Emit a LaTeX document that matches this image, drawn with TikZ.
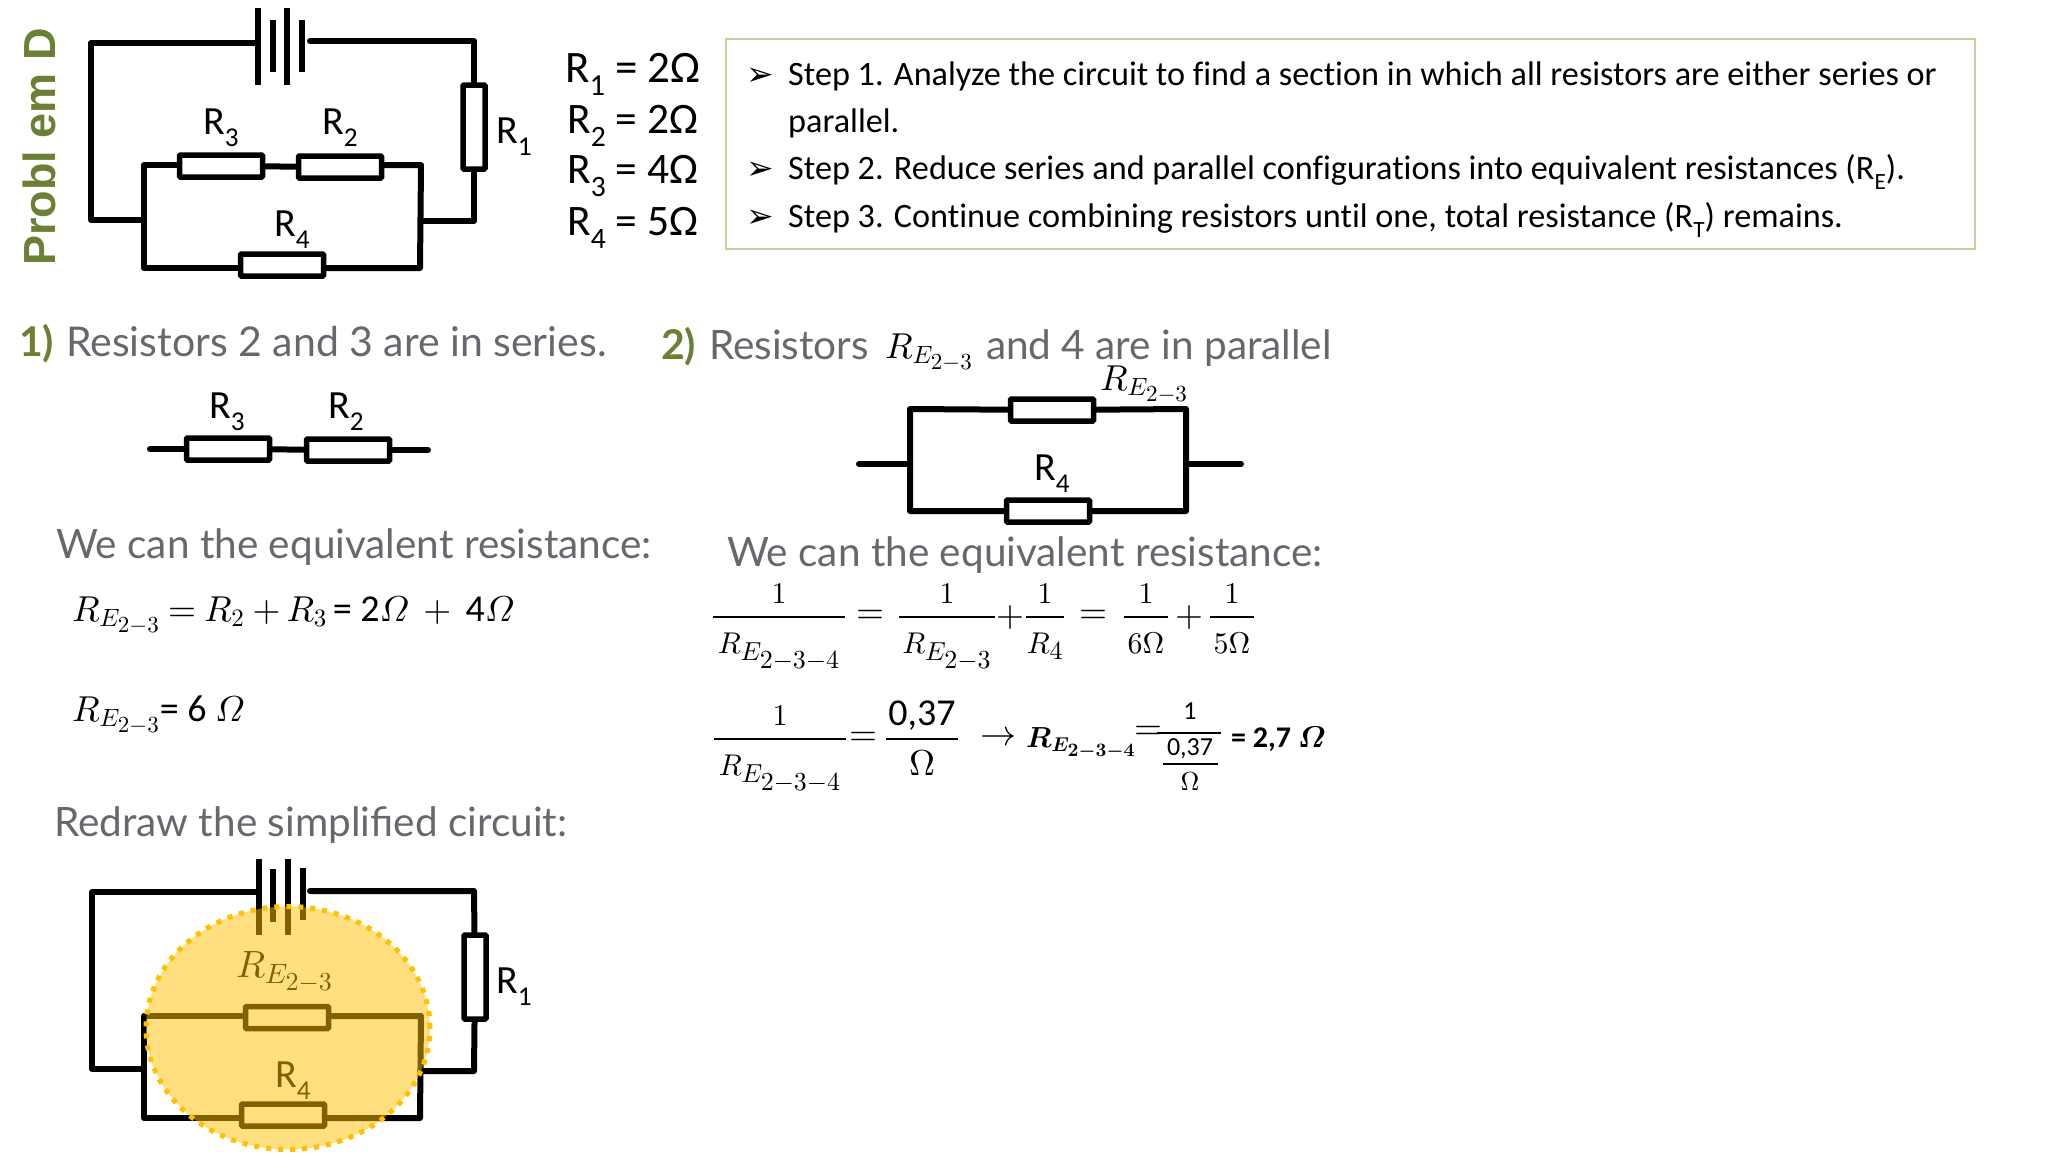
\documentclass[tikz,border=0pt]{standalone}
\usepackage{amsmath}
\usepackage[no-math]{fontspec}
\usepackage{tikz}
\usetikzlibrary{shapes.geometric}
\DeclareFontShape{OML}{cmm}{m}{it}{<->cmmi10}{}
\DeclareFontShape{OML}{cmm}{b}{it}{<->cmmib10}{}
\DeclareFontShape{OMS}{cmsy}{m}{n}{<->cmsy10}{}
\DeclareFontShape{OMS}{cmsy}{b}{n}{<->cmbsy10}{}
\DeclareFontShape{OT1}{cmr}{m}{n}{<->cmr10}{}
\DeclareFontShape{OT1}{cmr}{bx}{n}{<->cmbx10}{}
\DeclareMathSizes{38}{38}{28}{26}
\DeclareMathSizes{36}{36}{25}{23}
\DeclareMathSizes{30}{30}{26}{26}
\DeclareMathSizes{29}{29}{20}{19}
\setmainfont{Carlito}[Ligatures=NoCommon]
\newfontfamily\headfont{Lato}
\newfontfamily\titlefont{Liberation Sans}
\newfontfamily\bulletfont{DejaVu Sans}
\definecolor{probgreen}{HTML}{6B8035}
\definecolor{textgray}{HTML}{65686C}
\definecolor{boxgreen}{HTML}{C6D09C}
\definecolor{halo}{HTML}{FFC000}
\tikzstyle{wire} = [line width=6pt, line cap=round, line join=round]
\tikzstyle{resistor} = [rectangle, rounded corners=1pt, draw=black, line width=5.5pt, fill=white, minimum width=83pt, minimum height=22pt, inner sep=0pt]
\tikzstyle{plate} = [rectangle, fill=black, minimum width=6pt, inner sep=0pt]
\tikzstyle{rlabel} = [anchor=base, inner sep=0pt, font=\fontsize{40}{44}\selectfont]
\tikzstyle{vlabel} = [anchor=base west, inner sep=0pt, font=\fontsize{43.5}{48}\selectfont]
\tikzstyle{heading} = [anchor=base west, inner sep=0pt, text=textgray, font=\headfont\fontsize{40.5}{44}\selectfont]
\tikzstyle{number} = [anchor=base west, inner sep=0pt, text=probgreen, font=\headfont\bfseries\fontsize{41}{44}\selectfont]
\tikzstyle{steptext} = [anchor=base west, inner sep=0pt, font=\fontsize{34.2}{38}\selectfont]
\tikzstyle{bullet} = [anchor=base west, inner sep=0pt, font=\bulletfont\fontsize{33}{36}\selectfont]
\tikzstyle{eqtext} = [anchor=base west, inner sep=0pt, font=\fontsize{36}{40}\selectfont]
\tikzstyle{fractext} = [anchor=base, inner sep=0pt, font=\fontsize{30}{34}\selectfont]
\newcommand{\REtwo}{R_{E_{2-3}}}
\newcommand{\REfour}{R_{E_{2-3-4}}}
\newcommand{\Rsub}[1]{R\raisebox{-.3em}{\scalebox{.68}{#1}}}
\newcommand{\bigtext}[1]{\mbox{\fontsize{38}{40}\selectfont #1}}
% one fraction: name, centre x, half width, y of the bar, top, bottom
\newcommand{\eqfrac}[6]{
\node(#1_num) [fractext] at ({#2},{#4-14}) {$#5$};
\node(#1_den) [fractext] at ({#2},{#4+36}) {$#6$};
\draw[line width=2pt] ({#2-#3},#4) -- ({#2+#3},#4);
}

\begin{document}
\begin{tikzpicture}[x=1pt,y=-1pt]
\useasboundingbox (0,0) rectangle (2048,1152);

% title and first circuit
\node(title) [rotate=90, anchor=base, inner sep=0pt, text=probgreen, font=\titlefont\bfseries\fontsize{45}{48}\selectfont] at (55,147) {Probl em D};
\node(plate_a) [plate, minimum height=77pt] at (258,46) {};
\node(plate_b) [plate, minimum height=52pt] at (273,46) {};
\node(plate_c) [plate, minimum height=77pt] at (287,46) {};
\node(plate_d) [plate, minimum height=52pt] at (302,46) {};
\node(r_one) [resistor, minimum width=22pt, minimum height=84pt] at (474,127) {};
\node(r_three) [resistor] at (221,166) {};
\node(r_two) [resistor] at (340,167) {};
\node(r_four) [resistor] at (282,265) {};
\coordinate (c_tl) at (91,43);
\coordinate (c_bl) at (91,220);
\coordinate (c_tr) at (474,41);
\coordinate (c_br) at (474,221);
\coordinate (c_it) at (144,165);
\coordinate (c_ib) at (144,268);
\coordinate (c_jt) at (421,165);
\coordinate (c_jb) at (420,268);
\coordinate (bat_r) at (310,41);
\draw[wire] (plate_a.center |- c_tl) -- (c_tl) -- (c_bl) -- (c_bl -| c_it);
\draw[wire] (bat_r) -- (c_tr) -- (r_one);
\draw[wire] (r_one) -- (c_br) -- (c_br -| c_jt);
\draw[wire] (r_three.west |- c_it) -- (c_it) -- (c_ib) -- (r_four.west |- c_ib);
\draw[wire] (r_four.east |- c_jb) -- (c_jb) -- (c_jt) -- (r_two.east |- c_jt);
\draw[wire] (r_three) -- (r_two);
\node(lbl_three) [rlabel] at (221,134) {\Rsub{3}};
\node(lbl_two) [rlabel] at (340,134) {\Rsub{2}};
\node(lbl_four) [rlabel] at (292,236) {\Rsub{4}};
\node(lbl_one) [rlabel] at (514,143) {\Rsub{1}};

% values
\node(val_one) [vlabel, font=\fontsize{45}{48}\selectfont] at (565,82) {\Rsub{1} = 2Ω};
\node(val_two) [vlabel] at (567,133) {\Rsub{2} = 2Ω};
\node(val_three) [vlabel] at (567,183) {\Rsub{3} = 4Ω};
\node(val_four) [vlabel] at (567,235) {\Rsub{4} = 5Ω};

% steps
\node(step_box) [rectangle, draw=boxgreen, line width=2pt, minimum width=1249pt, minimum height=210pt] at (1350.5,144) {};
\node(bullet_a) [bullet] at (746,85) {➢};
\node(step_a) [steptext] at (788,85) {Step 1. Analyze the circuit to find a section in which all resistors are either series or};
\node(step_a_more) [steptext] at (788,132) {parallel.};
\node(bullet_b) [bullet] at (746,179) {➢};
\node(step_b) [steptext] at (788,179) {Step 2. Reduce series and parallel configurations into equivalent resistances (\Rsub{E}).};
\node(bullet_c) [bullet] at (746,227) {➢};
\node(step_c) [steptext] at (788,227) {Step 3. Continue combining resistors until one, total resistance (\Rsub{T}) remains.};

% part 1
\node(num_one) [number] at (19,356) {1)};
\node(head_one) [heading, font=\headfont\fontsize{41}{44}\selectfont] at (66,356) {Resistors 2 and 3 are in series.};
\node(s_three) [resistor] at (228,449) {};
\node(s_two) [resistor] at (348,450) {};
\coordinate (s_l) at (150,449);
\coordinate (s_r) at (428,450);
\draw[wire] (s_l) -- (s_three);
\draw[wire] (s_three) -- (s_two);
\draw[wire] (s_two) -- (s_r);
\node(s_lbl_three) [rlabel] at (227,418) {\Rsub{3}};
\node(s_lbl_two) [rlabel] at (346,418) {\Rsub{2}};
\node(can_one) [heading] at (56,558) {We can the equivalent resistance:};
\node(eq_sum) [eqtext] at (72,621) {$\REtwo\ {=}\ R_2\ {+}\,R_3\,$\bigtext{= 2}$\varOmega\ \,+\ \,$\bigtext{4}$\varOmega$};
\node(eq_six) [eqtext] at (72,721) {$\REtwo$\bigtext{= 6 }$\varOmega$};

% part 2
\node(num_two) [number] at (661,359) {2)};
\node(head_two) [heading] at (709,359) {Resistors};
\node(head_two_re) [eqtext] at (885,358) {$\REtwo$};
\node(head_two_more) [heading] at (986,359) {and 4 are in parallel};
\node(p_top) [resistor] at (1052,410) {};
\node(p_bot) [resistor] at (1048,511) {};
\coordinate (p_lt) at (910,409);
\coordinate (p_lb) at (910,511);
\coordinate (p_rt) at (1186,409);
\coordinate (p_rb) at (1186,511);
\coordinate (p_in) at (859,464);
\coordinate (p_out) at (1241,464);
\draw[wire] (p_top) -- (p_lt) -- (p_lb) -- (p_bot);
\draw[wire] (p_bot) -- (p_rb) -- (p_rt) -- (p_top);
\draw[wire] (p_in) -- (p_in -| p_lt);
\draw[wire] (p_out) -- (p_out -| p_rt);
\node(p_lbl_top) [eqtext] at (1100,390) {$\REtwo$};
\node(p_lbl_bot) [rlabel] at (1052,480) {\Rsub{4}};
\node(can_two) [heading] at (727,566) {We can the equivalent resistance:};

% fractions
\eqfrac{fa}{779}{66}{617}{1}{\REfour}
\node(eq_a) [eqtext, anchor=center] at (870,617) {$=$};
\eqfrac{fb}{947}{48}{617}{1}{\REtwo}
\node(plus_a) [eqtext, anchor=center] at (1010,617) {$+$};
\eqfrac{fc}{1045}{19}{617}{1}{R_4}
\node(eq_b) [eqtext, anchor=center] at (1093,617) {$=$};
\eqfrac{fd}{1146}{22}{617}{1}{6\Omega}
\node(plus_b) [eqtext, anchor=center] at (1189,617) {$+$};
\eqfrac{fe}{1232}{22}{617}{1}{5\Omega}
\eqfrac{ff}{780}{66}{739}{1}{\REfour}
\node(eq_c) [eqtext, anchor=center] at (863,739) {$=$};
\eqfrac{fg}{922}{36}{739}{\bigtext{0,37}}{\mbox{\fontsize{36}{40}\selectfont$\Omega$}}
\node(arrow_res) [eqtext, anchor=center] at (998,739) {$\rightarrow$};
\node(bold_re) [fractext, anchor=base west, font=\boldmath\fontsize{29}{34}\selectfont] at (1026,747) {$\REfour$};
\node(eq_d) [eqtext, anchor=center] at (1148,733) {$=$};
\node(small_one) [fractext, font=\fontsize{26}{30}\selectfont] at (1190,719) {1};
\draw[line width=2.5pt] (1157,733) -- (1221,733);
\node(small_num) [fractext, font=\fontsize{26}{30}\selectfont] at (1190,755) {0,37};
\draw[line width=2pt] (1163,764) -- (1218,764);
\node(small_den) [fractext, font=\fontsize{26}{30}\selectfont] at (1190,790) {$\Omega$};
\node(res_final) [eqtext, anchor=base west, font=\boldmath\bfseries\fontsize{30}{34}\selectfont] at (1231,747) {= 2,7 $\varOmega$};

% redrawn circuit
\node(can_redraw) [heading] at (54,836) {Redraw the simplified circuit:};
\node(rp_a) [plate, minimum height=76pt] at (259,897) {};
\node(rp_b) [plate, minimum height=53pt] at (273,895.5) {};
\node(rp_c) [plate, minimum height=76pt] at (288,897) {};
\node(rp_d) [plate, minimum height=52pt] at (303,894) {};
\node(rr_one) [resistor, minimum width=22pt, minimum height=84pt] at (475,977) {};
\node(rr_top) [resistor] at (287,1017.5) {};
\node(rr_bot) [resistor] at (283,1115) {};
\coordinate (d_tl) at (92,892);
\coordinate (d_bl) at (92,1069);
\coordinate (d_tr) at (474,891);
\coordinate (d_br) at (474,1071);
\coordinate (d_it) at (144,1016);
\coordinate (d_ib) at (144,1118);
\coordinate (d_jt) at (421,1016);
\coordinate (d_jb) at (420,1118);
\coordinate (rbat_r) at (310,891);
\draw[wire] (rp_a.center |- d_tl) -- (d_tl) -- (d_bl) -- (d_bl -| d_it);
\draw[wire] (rbat_r) -- (d_tr) -- (rr_one);
\draw[wire] (rr_one) -- (d_br) -- (d_br -| d_jt);
\draw[wire] (rr_top.west |- d_it) -- (d_it) -- (d_ib) -- (rr_bot.west |- d_ib);
\draw[wire] (rr_bot.east |- d_jb) -- (d_jb) -- (d_jt) -- (rr_top.east |- d_jt);
\node(r_lbl_top) [eqtext, font=\fontsize{38}{40}\selectfont] at (236,977) {$\REtwo$};
\node(r_lbl_bot) [rlabel] at (293,1087) {\Rsub{4}};
\node(r_lbl_one) [rlabel] at (514,993) {\Rsub{1}};
\node(highlight) [ellipse, draw=halo, fill=halo, fill opacity=0.5, draw opacity=1, line width=5pt, dash pattern=on 5pt off 7pt, minimum width=284pt, minimum height=243pt, inner sep=0pt] at (288,1028) {};
\end{tikzpicture}
\end{document}
